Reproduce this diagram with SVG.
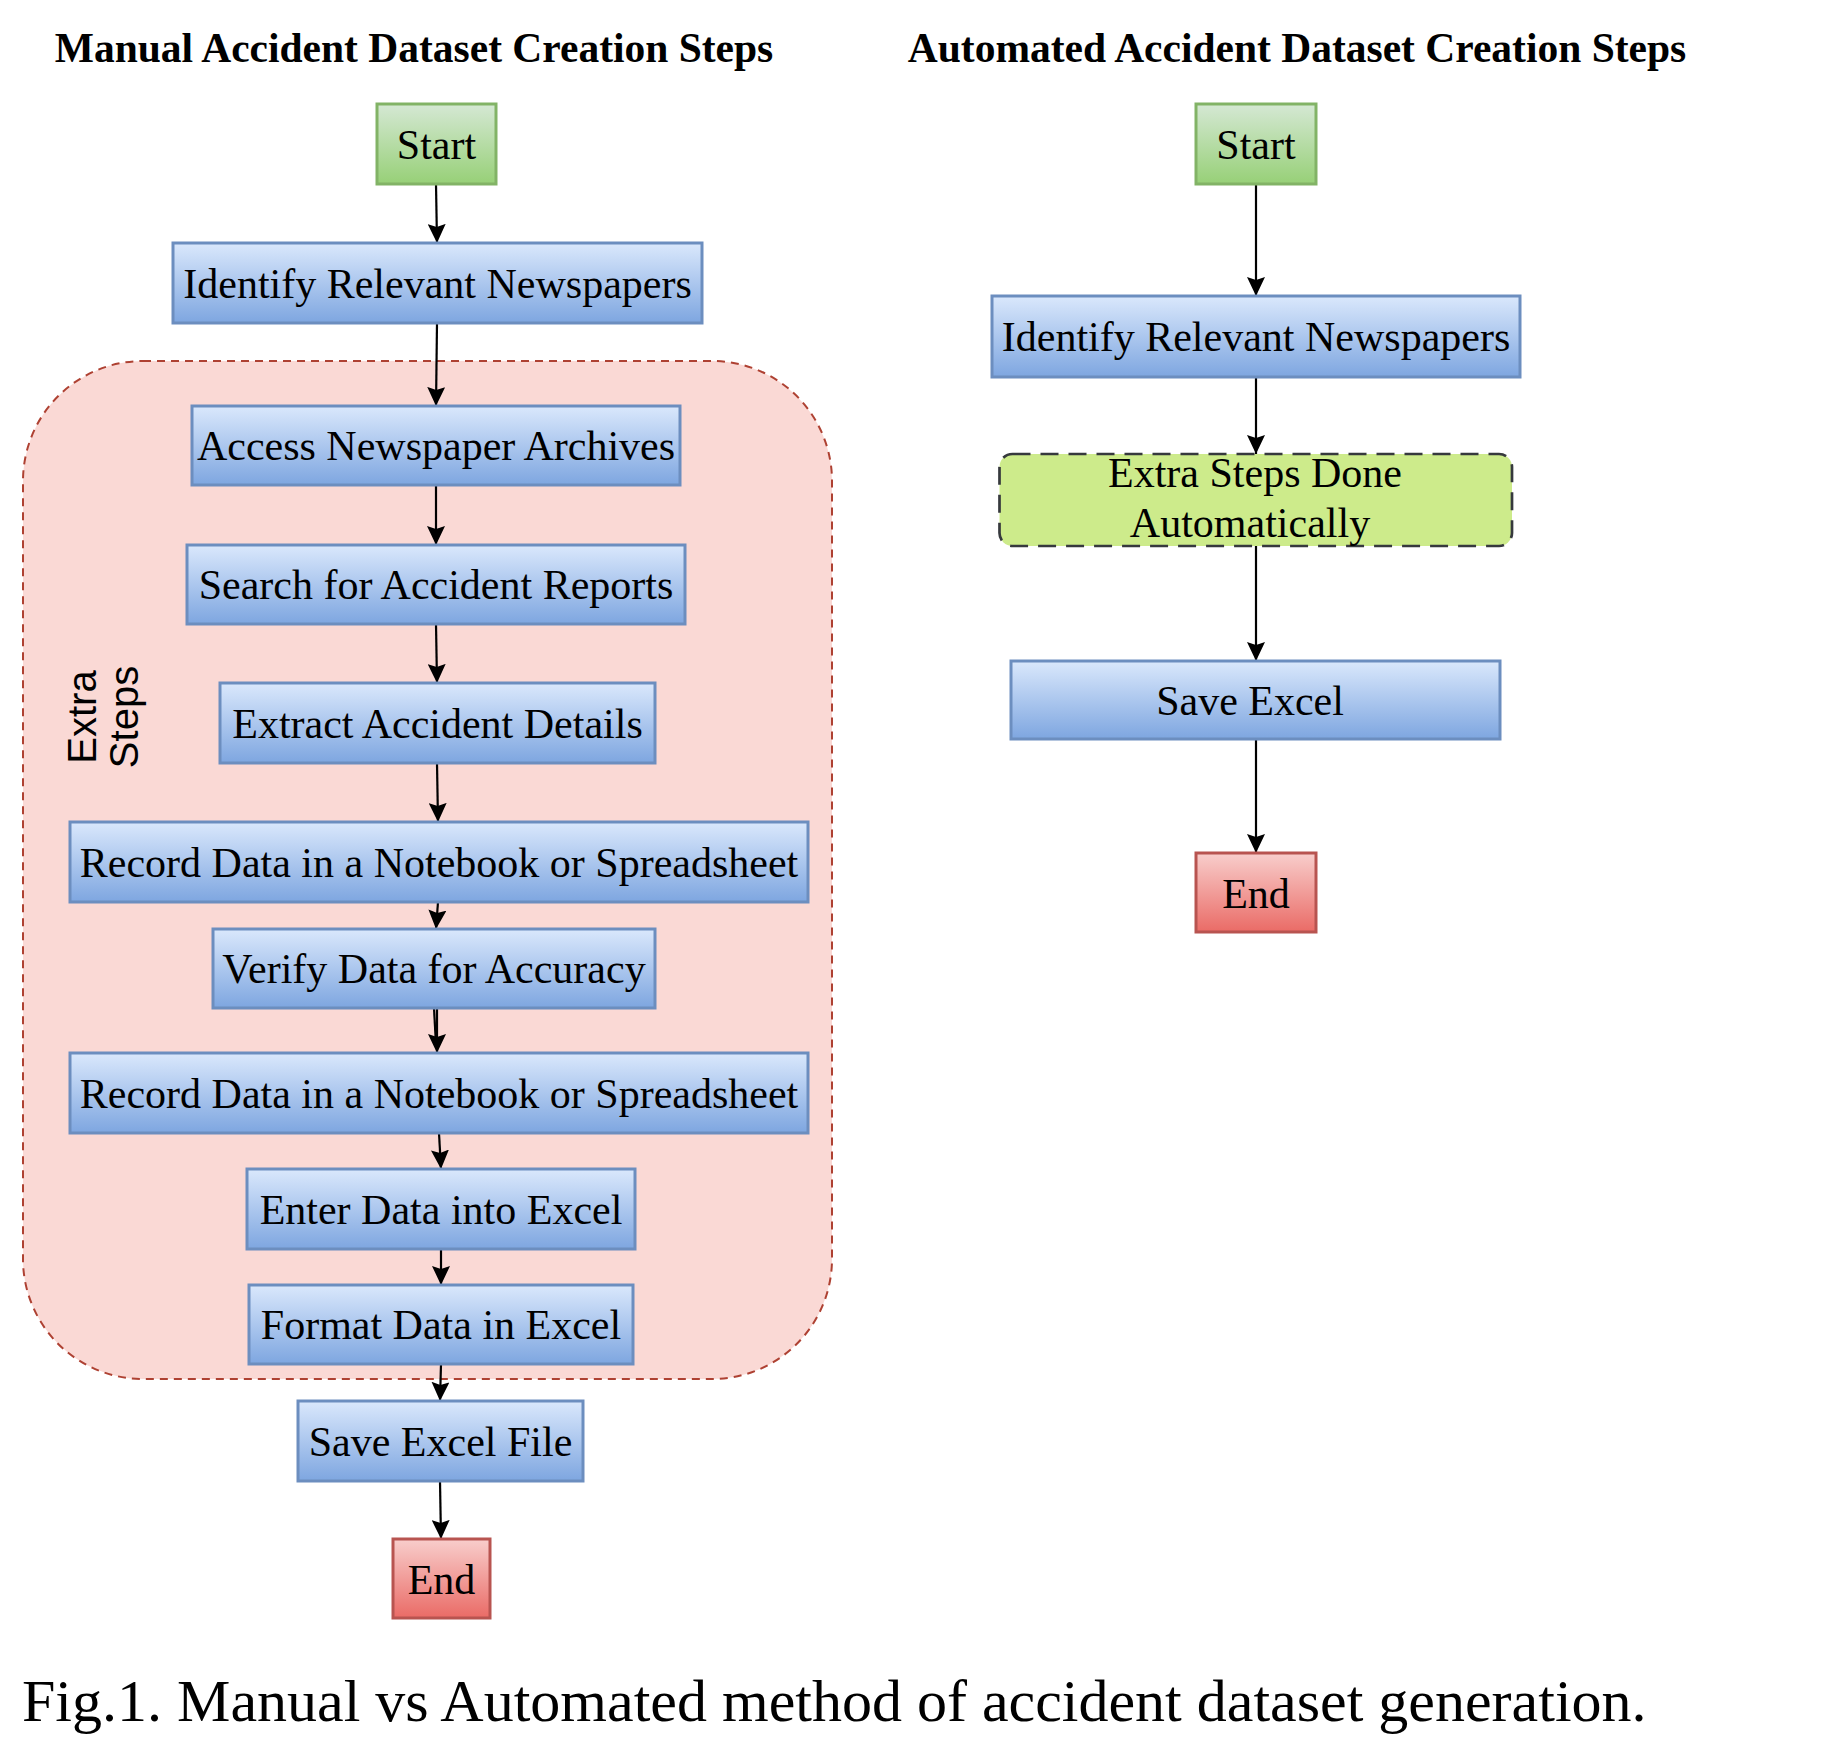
<svg xmlns="http://www.w3.org/2000/svg" width="1824" height="1760" viewBox="0 0 1824 1760">
<defs>
<linearGradient id="gBlue" x1="0" y1="0" x2="0" y2="1"><stop offset="0" stop-color="#dae8fc"/><stop offset="1" stop-color="#7ea6e0"/></linearGradient>
<linearGradient id="gGreen" x1="0" y1="0" x2="0" y2="1"><stop offset="0" stop-color="#d5e8d4"/><stop offset="1" stop-color="#97d077"/></linearGradient>
<linearGradient id="gRed" x1="0" y1="0" x2="0" y2="1"><stop offset="0" stop-color="#f8cecc"/><stop offset="1" stop-color="#ea6b66"/></linearGradient>
<marker id="arr" markerUnits="userSpaceOnUse" markerWidth="19" markerHeight="18" refX="19" refY="9" orient="auto" viewBox="0 0 19 18">
<path d="M0,0 L19,9 L0,18 L3,9 Z" fill="#000"/>
</marker>
<style>
.t{font-family:"Liberation Serif","Times New Roman",serif;font-size:42px;fill:#000;text-anchor:middle}
.h{font-family:"Liberation Serif","Times New Roman",serif;font-size:41.5px;font-weight:bold;fill:#000;text-anchor:middle}
.s{font-family:"Liberation Sans",Arial,sans-serif;font-size:40px;fill:#000;text-anchor:middle}
.cap{font-family:"Liberation Serif","Times New Roman",serif;font-size:60px;fill:#000}
.b{fill:url(#gBlue);stroke:#6c8ebf;stroke-width:3}
.g{fill:url(#gGreen);stroke:#82b366;stroke-width:3}
.r{fill:url(#gRed);stroke:#b85450;stroke-width:3}
.e{fill:none;stroke:#000;stroke-width:2.2;marker-end:url(#arr)}
</style>
</defs>
<rect width="1824" height="1760" fill="#fff"/>
<text class="h" x="414" y="62">Manual Accident Dataset Creation Steps</text>
<text class="h" x="1297" y="62">Automated Accident Dataset Creation Steps</text>
<g id="extra-container">
<rect x="23" y="361" width="809" height="1018" rx="120" ry="120" fill="#fad9d5" stroke="#ae4132" stroke-width="2" stroke-dasharray="8 6"/>
<text class="s" transform="translate(96,717) rotate(-90)">Extra</text>
<text class="s" transform="translate(138,717) rotate(-90)">Steps</text>
</g>
<g id="connectors">
<path class="e" d="M436,184 L437,243"/>
<path class="e" d="M437,323 L436,406"/>
<path class="e" d="M436,485 L436,545"/>
<path class="e" d="M436,624 L437,683"/>
<path class="e" d="M437,763 L438,822"/>
<path class="e" d="M438,902 L436,929"/>
<path fill="none" stroke="#000" stroke-width="2.2" d="M434,1008 L436,1045"/>
<path class="e" d="M437,1008 L437,1053"/>
<path class="e" d="M439,1133 L441,1169"/>
<path class="e" d="M441,1249 L441,1285"/>
<path class="e" d="M441,1364 L440,1401"/>
<path class="e" d="M440,1481 L441,1539"/>
<path class="e" d="M1256,184 L1256,296"/>
<path class="e" d="M1256,377 L1256,454"/>
<path class="e" d="M1256,546 L1256,661"/>
<path class="e" d="M1256,739 L1256,853"/>
</g>
<g id="m-start"><rect class="g" x="377" y="104" width="119" height="80"/><text class="t" x="436.5" y="159">Start</text></g>
<g id="m-identify"><rect class="b" x="173" y="243" width="529" height="80"/><text class="t" x="437.5" y="298">Identify Relevant Newspapers</text></g>
<g id="m-access"><rect class="b" x="192" y="406" width="488" height="79"/><text class="t" x="436" y="460">Access Newspaper Archives</text></g>
<g id="m-search"><rect class="b" x="187" y="545" width="498" height="79"/><text class="t" x="436" y="599">Search for Accident Reports</text></g>
<g id="m-extract"><rect class="b" x="220" y="683" width="435" height="80"/><text class="t" x="437.5" y="738">Extract Accident Details</text></g>
<g id="m-record1"><rect class="b" x="70" y="822" width="738" height="80"/><text class="t" x="439" y="877">Record Data in a Notebook or Spreadsheet</text></g>
<g id="m-verify"><rect class="b" x="213" y="929" width="442" height="79"/><text class="t" x="434" y="983">Verify Data for Accuracy</text></g>
<g id="m-record2"><rect class="b" x="70" y="1053" width="738" height="80"/><text class="t" x="439" y="1108">Record Data in a Notebook or Spreadsheet</text></g>
<g id="m-enter"><rect class="b" x="247" y="1169" width="388" height="80"/><text class="t" x="441" y="1224">Enter Data into Excel</text></g>
<g id="m-format"><rect class="b" x="249" y="1285" width="384" height="79"/><text class="t" x="441" y="1339">Format Data in Excel</text></g>
<g id="m-save"><rect class="b" x="298" y="1401" width="285" height="80"/><text class="t" x="440.5" y="1456">Save Excel File</text></g>
<g id="m-end"><rect class="r" x="393" y="1539" width="97" height="79"/><text class="t" x="441.5" y="1594">End</text></g>
<g id="a-start"><rect class="g" x="1196" y="104" width="120" height="80"/><text class="t" x="1256" y="159">Start</text></g>
<g id="a-identify"><rect class="b" x="992" y="296" width="528" height="81"/><text class="t" x="1256" y="351">Identify Relevant Newspapers</text></g>
<g id="a-extra"><rect x="999.5" y="454" width="512.5" height="92" rx="13" ry="13" fill="#cdeb8b" stroke="#36393d" stroke-width="2.7" stroke-dasharray="18 10"/><text class="t" x="1255" y="487">Extra Steps Done</text><text class="t" x="1250" y="537">Automatically</text></g>
<g id="a-save"><rect class="b" x="1011" y="661" width="489" height="78"/><text class="t" x="1250" y="715">Save Excel</text></g>
<g id="a-end"><rect class="r" x="1196" y="853" width="120" height="79"/><text class="t" x="1256" y="908">End</text></g>
<text class="cap" x="22" y="1721">Fig.1. Manual vs Automated method of accident dataset generation.</text>
</svg>
